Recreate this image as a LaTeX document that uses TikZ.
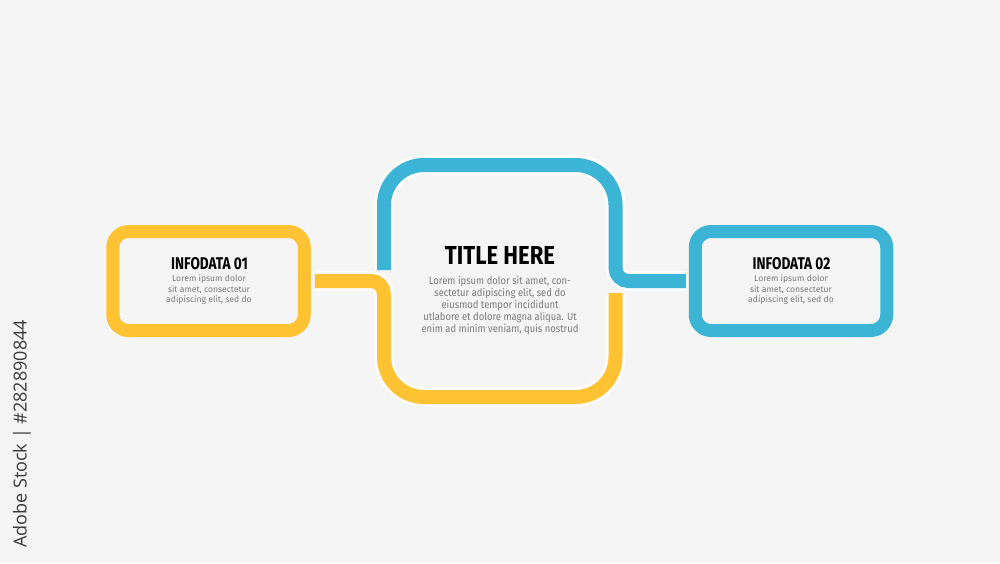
\documentclass[tikz,border=0pt]{standalone}
\usepackage{fontspec}
\setmainfont{Fira Sans}
\newfontfamily\watermarkfont{Open Sans}
\definecolor{bgc}{HTML}{F5F5F5}
\definecolor{bluec}{HTML}{3BB4D5}
\definecolor{yelc}{HTML}{FFC233}
\definecolor{txtg}{HTML}{7A7A7A}
\definecolor{wmc}{HTML}{3A3A3A}
\newcommand{\narrowlines}[2]{\scalebox{#1}[1]{\begin{tabular}{@{}c@{}}#2\end{tabular}}}
\begin{document}
\begin{tikzpicture}[x=1pt,y=-1pt,
  sidebox/.style={draw=#1, line width=13pt, rounded corners=16pt, minimum width=191.5pt, minimum height=99pt, inner sep=0pt},
  ring/.style={draw=#1, line width=14pt, preaction={draw=bgc!40!white, line width=20pt}},
  titletxt/.style={font=\fontsize{26}{26}\selectfont\bfseries, text=black, inner sep=0pt},
  sidetitle/.style={font=\fontsize{17}{17}\selectfont\bfseries, text=black, inner sep=0pt},
  bodytxt/.style={font=\fontsize{10.6}{12}\selectfont, text=txtg, inner sep=0pt},
  sidebody/.style={font=\fontsize{8.6}{10.5}\selectfont, text=txtg, align=center, inner sep=0pt}]
\useasboundingbox[fill=bgc] (0,0) rectangle (1000,563);
% side boxes
\node[sidebox=yelc] (left) at (208.5,281) {};
\node[sidebox=bluec] (right) at (791,281) {};
% central ring coordinates
\coordinate (ctl) at (384,165);
\coordinate (ctr) at (615.5,165);
\coordinate (cbl) at (384,397);
\coordinate (cbr) at (615.5,397);
\coordinate (blueend) at (384,270);
\coordinate (bluejoin) at (615.5,281);
\coordinate (yeljoin) at (384,281);
\coordinate (yelend) at (615.5,293);
% blue half with connector to right box
\draw[ring=bluec] (blueend) [rounded corners=40pt] -- (ctl) -- (ctr)
  [rounded corners=13pt] -- (bluejoin) -- ([xshift=-3pt]right.west);
% yellow half with connector from left box
\draw[ring=yelc] ([xshift=4pt]left.east) [rounded corners=13pt] -- (yeljoin)
  [rounded corners=40pt] -- (cbl) -- (cbr) -- (yelend);
% texts
\node[titletxt] (title) at (500,255) {\scalebox{0.85}[1]{TITLE HERE}};
\node[bodytxt, anchor=north] (body) at (500,276) {\narrowlines{0.89}{Lorem ipsum dolor sit amet, con-\\sectetur adipiscing elit, sed do\\eiusmod tempor incididunt\\utlabore et dolore magna aliqua. Ut\\enim ad minim veniam, quis nostrud}};
\node[sidetitle] (t1) at (209.5,264) {\scalebox{0.8}[1]{INFODATA 01}};
\node[sidebody, anchor=north] (b1) at (209,275) {Lorem ipsum dolor\\sit amet, consectetur\\adipiscing elit, sed do};
\node[sidetitle] (t2) at (791.5,264) {\scalebox{0.8}[1]{INFODATA 02}};
\node[sidebody, anchor=north] (b2) at (791,275) {Lorem ipsum dolor\\sit amet, consectetur\\adipiscing elit, sed do};
\node[rotate=90, font=\watermarkfont\fontsize{18}{18}\selectfont, text=wmc, inner sep=0pt] (wm) at (22,434) {Adobe Stock | \#282890844};
\end{tikzpicture}
\end{document}
